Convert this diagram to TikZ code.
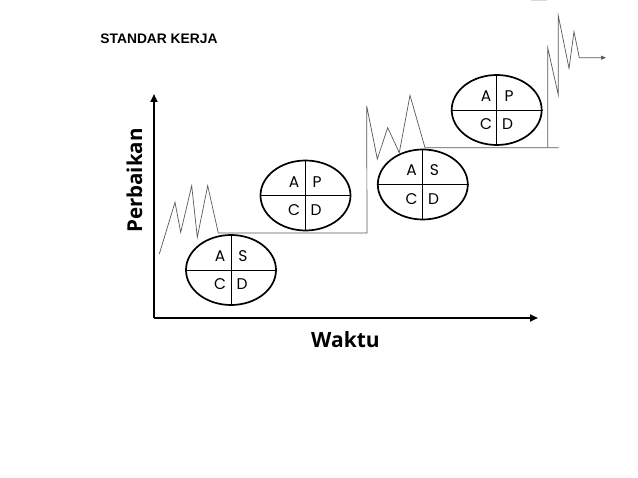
\documentclass[tikz,border=0pt]{standalone}
\usepackage{fontspec}
\usetikzlibrary{shapes.geometric,arrows.meta}
\newfontfamily\opensans{Open Sans}
\newfontfamily\arialf{Liberation Sans}
\newfontfamily\gothic{Poppins}
\tikzset{
  pdca/.style={draw, ellipse, line width=1.7pt, minimum width=90pt, minimum height=70pt, inner sep=0pt},
  cross/.style={line width=0.8pt},
  ltr/.style={inner sep=0pt, font=\gothic\fontsize{15.5}{17}\selectfont},
  zig/.style={draw=black!65, line width=0.7pt, line join=miter},
  axis/.style={line width=2.2pt, -{Triangle[length=8pt,width=7pt]}},
}
\begin{document}
\begin{tikzpicture}[x=1pt,y=-1pt]
\useasboundingbox (0,0) rectangle (638,478);
\fill[white] (0,0) rectangle (638,478);
% faint mark at top
\draw[black!15, line width=1pt] (531,0.8) -- (547,0.8);

\node[font=\arialf\bfseries\fontsize{13.8}{16}\selectfont] (title) at (159,38.5) {STANDAR KERJA};

% axes
\coordinate (O) at (154,318);
\coordinate (ytip) at (154,94);
\coordinate (xtip) at (538,318);
\draw[axis] (O) -- (ytip);
\draw[axis] (O) -- (xtip);
\node[rotate=90, font=\opensans\bfseries\fontsize{20.5}{24}\selectfont] (ylab) at (134.5,180.5) {Perbaikan};
\node[font=\opensans\bfseries\fontsize{21}{24}\selectfont] (xlab) at (345.5,340) {Waktu};

% step line with zigzags
\coordinate (s1) at (367,233);
\coordinate (s2) at (547.7,147.7);
\draw[zig] (159.3,254) -- (175,202.3) -- (180.7,232.3) -- (191.7,185.7) -- (197.3,237.3)
  -- (207.7,185.7) -- (218.3,233) -- (s1) -- (366.7,106) -- (377.3,159) -- (387.7,127.7)
  -- (399.3,152.7) -- (410,95.3) -- (425,147.7) -- (s2) -- (558.5,147.7);
\draw[zig, -{Triangle[length=5pt,width=4pt]}] (s2) -- (547.7,47.7) -- (558.3,95) -- (558.3,15.7)
  -- (569,68.3) -- (574,31.7) -- (579.3,57.7) -- (606,57.7);

% PDCA circles
\node[pdca] (e1) at (231,270) {};
\node[pdca] (e2) at (305.5,195.5) {};
\node[pdca] (e3) at (422.8,184.5) {};
\node[pdca] (e4) at (496.7,110) {};
\foreach \e in {e1,e2,e3,e4}{
  \draw[cross] (\e.north) -- (\e.south);
  \draw[cross] (\e.west) -- (\e.east);
}
% letters
\node[ltr] (e1a) at (220,256) {A};
\node[ltr] (e1s) at (243,256) {S};
\node[ltr] (e1c) at (220,284) {C};
\node[ltr] (e1d) at (242,284) {D};

\node[ltr] (e2a) at (294,182) {A};
\node[ltr] (e2p) at (317,182) {P};
\node[ltr] (e2c) at (294,210) {C};
\node[ltr] (e2d) at (316,210) {D};

\node[ltr] (e3a) at (411.7,170) {A};
\node[ltr] (e3s) at (434.3,170) {S};
\node[ltr] (e3c) at (411.7,199) {C};
\node[ltr] (e3d) at (433.5,199) {D};

\node[ltr] (e4a) at (486,96.5) {A};
\node[ltr] (e4p) at (509,96.5) {P};
\node[ltr] (e4c) at (486,124.5) {C};
\node[ltr] (e4d) at (507.7,124.5) {D};
\end{tikzpicture}
\end{document}
